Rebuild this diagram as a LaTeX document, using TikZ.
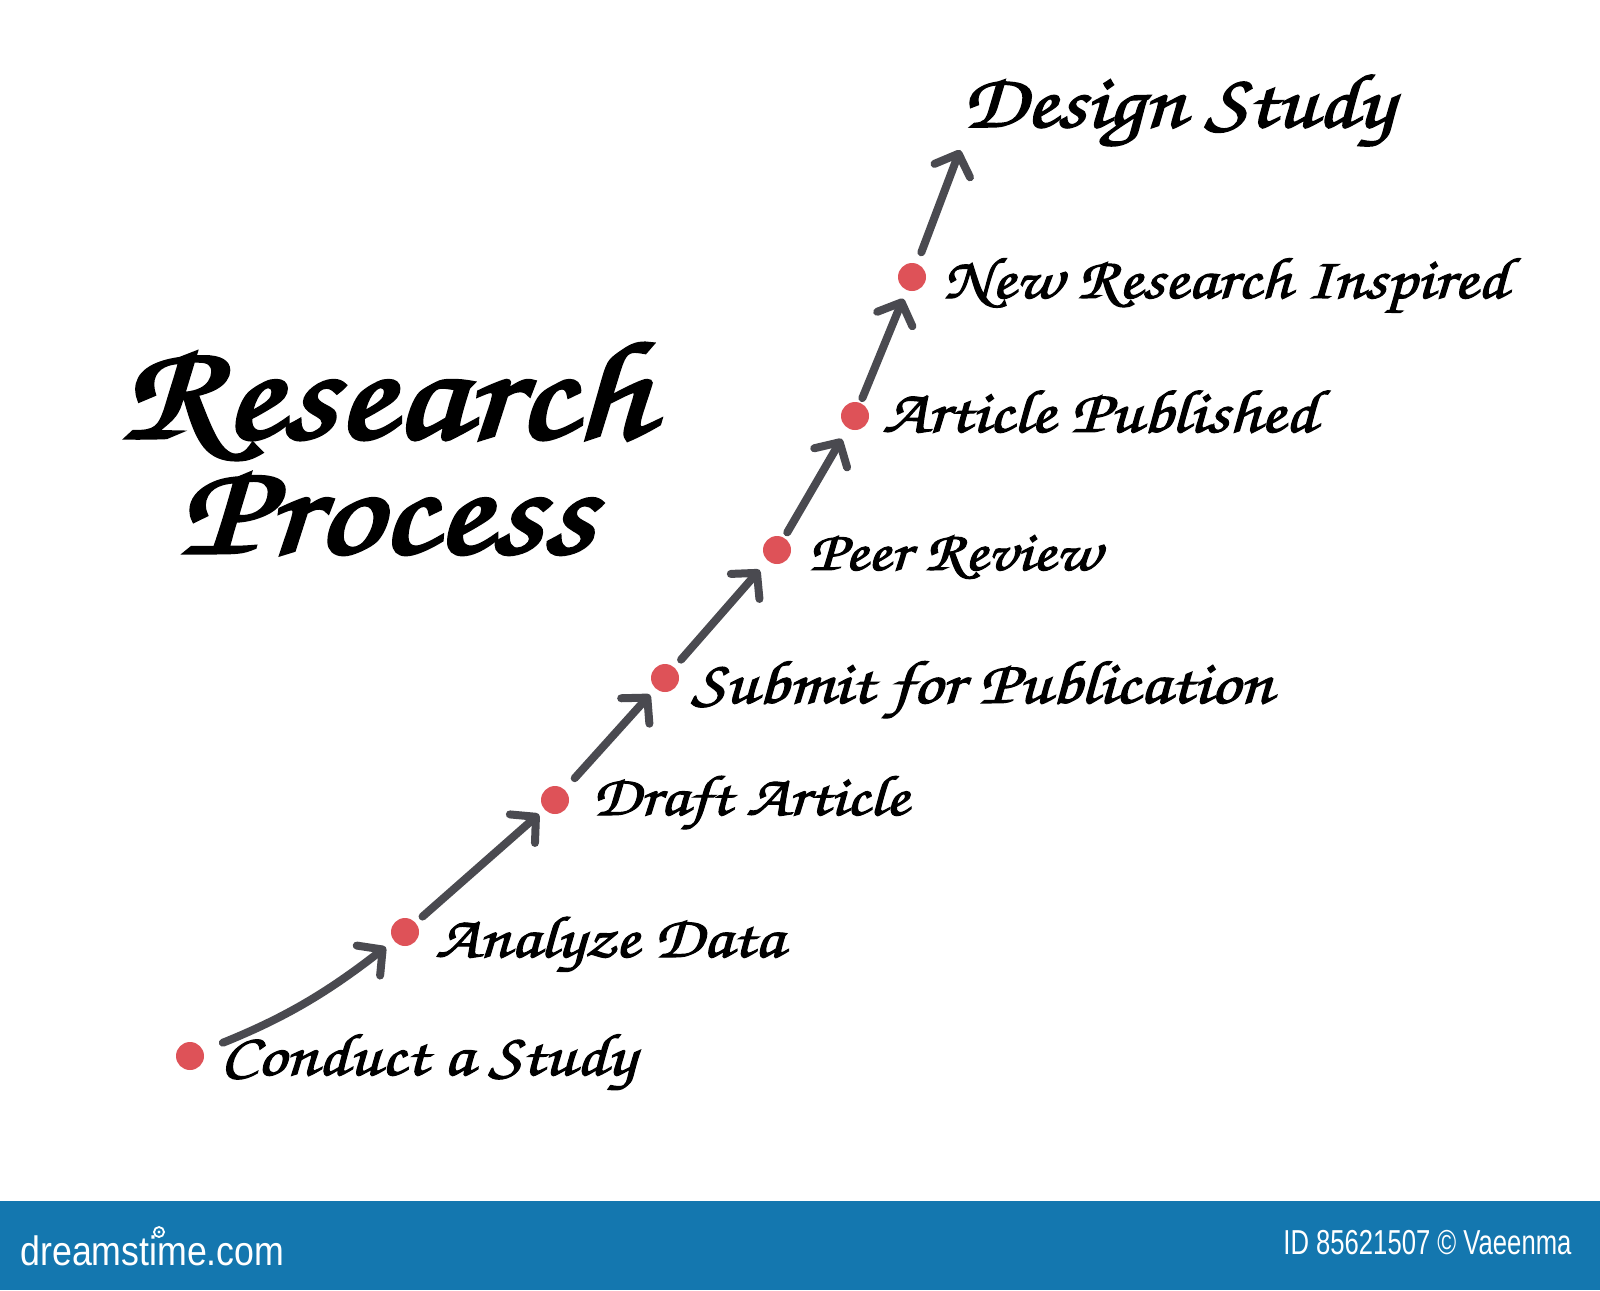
\documentclass[tikz,border=0pt]{standalone}
\usepackage[T1]{fontenc}
\usepackage{fontspec}
\usepackage{graphicx}
\newfontfamily\barfont{Liberation Sans}
\usetikzlibrary{arrows.meta}
\IfFileExists{t1pzc.fd}{%
  \newcommand\scr{\fontencoding{T1}\fontfamily{pzc}\fontseries{mb}\fontshape{it}\selectfont}%
  \newcommand\vs{0.85}}{%
  \newcommand\scr{\itshape}%
  \newcommand\vs{1.0}}
% #1 width in px, #2 vertical stretch, #3 stroke width, #4 text
\newcommand\fitw[4]{\resizebox{\dimexpr #1pt/2\relax}{!}{\scalebox{1}[#2]{\special{pdf:code 2 Tr #3 w}#4}}}
\definecolor{dotred}{RGB}{222,82,88}
\definecolor{arrgray}{RGB}{74,74,80}
\definecolor{barblue}{RGB}{20,119,175}
\begin{document}
\begin{tikzpicture}[x=0.5pt,y=-0.5pt,
  dot/.style={circle,fill=dotred,minimum size=14pt,inner sep=0pt},
  arr/.style={draw=arrgray,line width=4pt,line cap=round,line join=round,
    -{Straight Barb[length=9pt,width=19pt,round]}},
  lbl/.style={anchor=base west,inner sep=0pt,text=black},
  bartext/.style={anchor=base west,inner sep=0pt,text=white}]
\useasboundingbox (0,0) rectangle (1600,1290);
\fill[white] (0,0) rectangle (1600,1290);
% bottom bar
\fill[barblue] (0,1201) rectangle (1600,1290);
\node[bartext] (logo) at (20,1265) {\resizebox{132pt}{!}{\scalebox{1}[1.15]{\barfont dreamstime.com}}};
\draw[white,line width=0.9pt] (159,1232) circle (5);
\fill[white] (159,1232) circle (1.6);
\node[bartext] (id) at (1283,1254) {\resizebox{144pt}{!}{\scalebox{1}[1.35]{\barfont ID 85621507 \textcopyright{} Vaeenma}}};
% title
\node[lbl] (title1) at (120,438) {\fitw{528}{0.82}{0.25}{\scr Research}};
\node[lbl] (title2) at (179,553) {\fitw{414}{0.82}{0.25}{\scr Process}};
% dots
\node[dot] (c1) at (190,1056) {};
\node[dot] (c2) at (405,932) {};
\node[dot] (c3) at (555,800) {};
\node[dot] (c4) at (665,678) {};
\node[dot] (c5) at (777,550) {};
\node[dot] (c6) at (855,416) {};
\node[dot] (c7) at (912,277) {};
\coordinate (dsend) at (960,150);
% labels
\node[lbl] (l1) at (220,1075) {\fitw{415}{\vs}{0.18}{\scr Conduct a Study}};
\node[lbl] (l2) at (435,957) {\fitw{348}{\vs}{0.18}{\scr Analyze Data}};
\node[lbl] (l3) at (592,815) {\fitw{316}{\vs}{0.18}{\scr Draft Article}};
\node[lbl] (l4) at (691,703) {\fitw{581}{\vs}{0.18}{\scr Submit for Publication}};
\node[lbl] (l5) at (809,570) {\fitw{291}{\vs}{0.18}{\scr Peer Review}};
\node[lbl] (l6) at (882,432) {\fitw{434}{\vs}{0.18}{\scr Article Published}};
\node[lbl] (l7) at (943,298) {\fitw{564}{\vs}{0.18}{\scr New Research Inspired}};
\node[lbl] (l8) at (962,127) {\fitw{431}{\vs}{0.2}{\scr Design Study}};
% arrows
\draw[arr,shorten <=10.5pt,shorten >=5pt] (c1) to[bend right=8] (c2);
\draw[arr,shorten <=4.5pt,shorten >=3.5pt] (c2) -- (c3);
\draw[arr,shorten <=7.5pt,shorten >=4pt] (c3) -- (c4);
\draw[arr,shorten <=5pt,shorten >=6pt] (c4) -- (c5);
\draw[arr,shorten <=3pt,shorten >=6pt] (c5) -- (c6);
\draw[arr,shorten <=2.5pt,shorten >=4.5pt] (c6) -- (c7);
\draw[arr,shorten <=6pt] (c7) -- (dsend);
\end{tikzpicture}
\end{document}
